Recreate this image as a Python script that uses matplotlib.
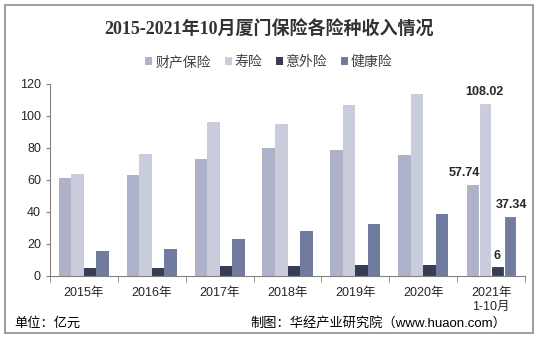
import numpy as np
import matplotlib.pyplot as plt
from matplotlib.patches import Rectangle

plt.rcParams['font.family'] = ['Liberation Sans', 'Noto Sans CJK SC', 'DejaVu Sans']

years = ['2015年', '2016年', '2017年', '2018年', '2019年', '2020年', '2021年\n1-10月']
series_names = ['财产保险', '寿险', '意外险', '健康险']
property_ins = [61.3, 63.1, 73.1, 80.0, 78.8, 75.6, 57.74]
life_ins = [63.8, 76.3, 96.3, 95.0, 106.9, 113.8, 108.02]
accident_ins = [5.0, 5.0, 6.3, 6.2, 6.9, 7.0, 6]
health_ins = [15.6, 16.9, 23.1, 28.1, 32.5, 38.8, 37.34]
last_labels = ['57.74', '108.02', '6', '37.34']

colors = ['#adb2c8', '#c8ccdb', '#373d55', '#717b9f']

fig = plt.figure(figsize=(5.38, 3.4), dpi=100)
fig.patches.append(Rectangle((0.009, 0.02), 0.982, 0.965, transform=fig.transFigure,
                             fill=False, edgecolor='#8c8c8c', linewidth=1.2))
ax = fig.add_axes([50 / 538, 1 - 276 / 340, 475 / 538, 192 / 340])

x = np.arange(len(years))
w = 0.185
data = [property_ins, life_ins, accident_ins, health_ins]
for i, (vals, name, c) in enumerate(zip(data, series_names, colors)):
    pos = x + (i - 1.5) * w
    ax.bar(pos[:-1], vals[:-1], w, color=c, label=name)
    ax.bar(pos[-1], vals[-1], w, color=c, edgecolor='white', linewidth=0.8)
    ax.text(pos[-1] + (-0.12 if i == 0 else 0.03 if i == 3 else 0), vals[-1] + 3,
            last_labels[i], ha='center', va='bottom', fontsize=9,
            fontweight='bold', color='#262626')

ax.set_xlim(-0.5, len(years) - 0.5)
ax.set_ylim(0, 120)
ax.set_yticks(range(0, 121, 20))
ax.set_xticks(x)
ax.set_xticklabels(years, fontsize=9)
ax.set_xticks(np.arange(-0.5, len(years), 1), minor=True)
ax.tick_params(axis='x', which='major', length=0, pad=8, labelcolor='#262626')
ax.tick_params(axis='x', which='minor', length=4, color='#808080')
ax.tick_params(axis='y', labelsize=9, length=3, color='#808080', labelcolor='#262626')
for s in ['top', 'right']:
    ax.spines[s].set_visible(False)
for s in ['left', 'bottom']:
    ax.spines[s].set_color('#808080')

fig.text(0.5, 1 - 30 / 340, '2015-2021年10月厦门保险各险种收入情况', ha='center', va='center',
         fontsize=13, fontweight='bold', color='#333333',
         family=['Liberation Serif', 'Noto Sans CJK SC'])
fig.legend(loc='center', bbox_to_anchor=(0.5, 1 - 62 / 340), ncol=4, frameon=False,
           fontsize=10, handlelength=0.5, handleheight=0.5, handletextpad=0.2,
           columnspacing=1.0, labelcolor='#404040')
fig.text(14 / 538, 1 - 323 / 340, '单位：亿元', ha='left', va='center', fontsize=9.5)
fig.text(506 / 538, 1 - 323 / 340, '制图：华经产业研究院（www.huaon.com）', ha='right', va='center',
         fontsize=9.5)

fig.savefig('out.png', dpi=100)
